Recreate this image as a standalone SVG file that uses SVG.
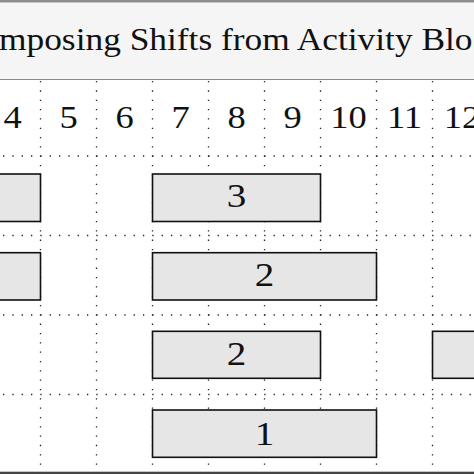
<svg xmlns="http://www.w3.org/2000/svg" width="474" height="474" viewBox="0 0 474 474">
<style>
  .grid { stroke: #222; stroke-width: 1.3; stroke-dasharray: 1.3 8.03; fill: none; }
  .box { fill: #e6e6e6; stroke: #111; stroke-width: 1.6; }
  .num { font-family: "Liberation Serif", "Times New Roman", serif; font-size: 32px; fill: #111; text-anchor: middle; }
  .lbl { font-family: "Liberation Serif", "Times New Roman", serif; font-size: 34px; fill: #111; text-anchor: middle; }
  .title { font-family: "Liberation Serif", "Times New Roman", serif; font-size: 30.5px; fill: #111; }
</style>
<rect x="0" y="0" width="474" height="474" fill="#ffffff"/>
<g id="title">
  <rect x="0" y="2.5" width="474" height="77" fill="#f5f5f5"/>
  <rect x="0" y="0" width="474" height="2.5" fill="#8c8c8c"/>
  <line x1="0" y1="79.5" x2="474" y2="79.5" stroke="#8a8a8a" stroke-width="1.2"/>
  <text class="title" transform="translate(-1,50) scale(1.16,1)">mposing Shifts from Activity Blo</text>
</g>
<g id="grid">
  <line class="grid" x1="40.5" y1="81" x2="40.5" y2="472"/>
  <line class="grid" x1="96.5" y1="81" x2="96.5" y2="472"/>
  <line class="grid" x1="152.5" y1="81" x2="152.5" y2="472"/>
  <line class="grid" x1="208.5" y1="81" x2="208.5" y2="472"/>
  <line class="grid" x1="264.5" y1="81" x2="264.5" y2="472"/>
  <line class="grid" x1="320.5" y1="81" x2="320.5" y2="472"/>
  <line class="grid" x1="376.5" y1="81" x2="376.5" y2="472"/>
  <line class="grid" x1="432.5" y1="81" x2="432.5" y2="472"/>
  <line class="grid" x1="3" y1="156" x2="474" y2="156"/>
  <line class="grid" x1="3" y1="235.5" x2="474" y2="235.5"/>
  <line class="grid" x1="3" y1="315" x2="474" y2="315"/>
  <line class="grid" x1="3" y1="394.5" x2="474" y2="394.5"/>
</g>
<g id="hours">
  <text class="num" transform="translate(12.5,128) scale(1.14,1)">4</text>
  <text class="num" transform="translate(68.5,128) scale(1.14,1)">5</text>
  <text class="num" transform="translate(124.5,128) scale(1.14,1)">6</text>
  <text class="num" transform="translate(180.5,128) scale(1.14,1)">7</text>
  <text class="num" transform="translate(236.5,128) scale(1.14,1)">8</text>
  <text class="num" transform="translate(292.5,128) scale(1.14,1)">9</text>
  <text class="num" transform="translate(348.5,128) scale(1.14,1)">10</text>
  <text class="num" transform="translate(404.5,128) scale(1.14,1)">11</text>
  <text class="num" transform="translate(462,128) scale(1.14,1)">12</text>
</g>
<g id="block-r1-left"><rect class="box" x="-5" y="174" width="45.5" height="47.5"/></g>
<g id="block-r1-3">
  <rect class="box" x="152.5" y="174" width="168" height="47.5"/>
  <text class="lbl" transform="translate(236.5,206.7) scale(1.15,1)">3</text>
</g>
<g id="block-r2-left"><rect class="box" x="-5" y="252.7" width="45.5" height="47.3"/></g>
<g id="block-r2-2">
  <rect class="box" x="152.5" y="252.7" width="224" height="47.3"/>
  <text class="lbl" transform="translate(264.5,286) scale(1.15,1)">2</text>
</g>
<g id="block-r3-2">
  <rect class="box" x="152.5" y="331.3" width="168" height="47"/>
  <text class="lbl" transform="translate(236.5,365) scale(1.15,1)">2</text>
</g>
<g id="block-r3-right"><rect class="box" x="432.5" y="331.3" width="50" height="47"/></g>
<g id="block-r4-1">
  <rect class="box" x="152.5" y="410" width="224" height="47.3"/>
  <text class="lbl" transform="translate(264.5,445) scale(1.15,1)">1</text>
</g>
<rect x="0" y="471.7" width="474" height="2.3" fill="#444"/>
</svg>
